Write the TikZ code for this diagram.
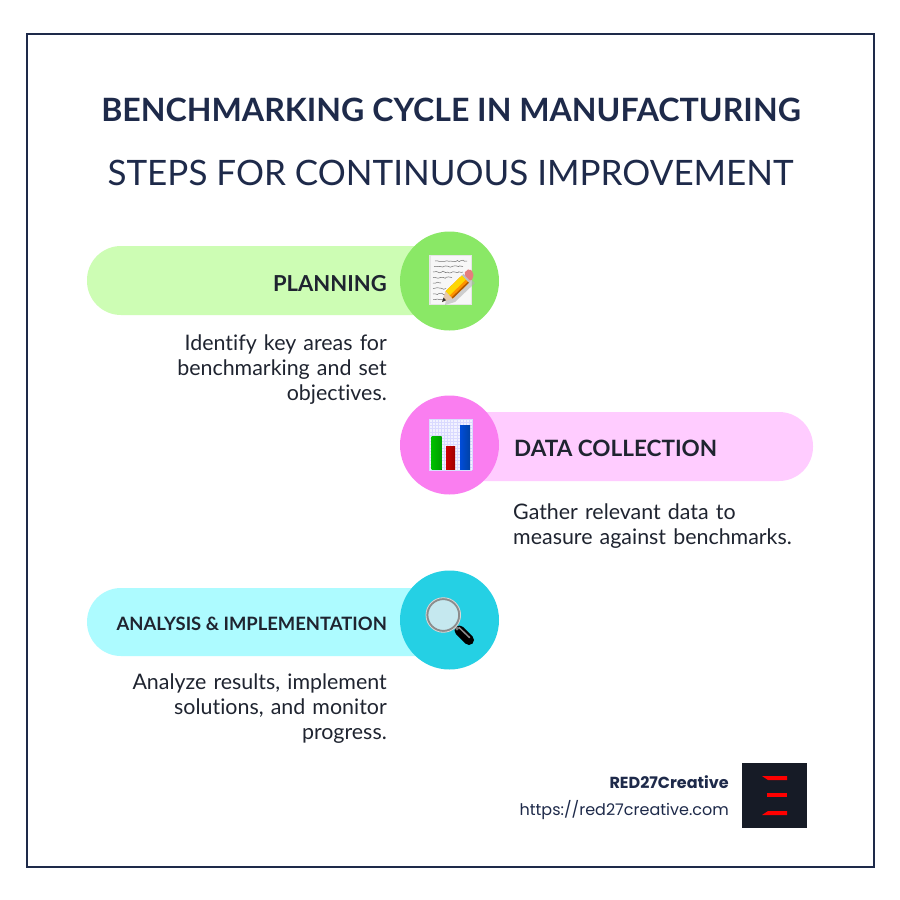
\documentclass[tikz,border=0pt]{standalone}
\usepackage{fontspec}
\setmainfont[Ligatures=NoCommon]{Lato}
\newfontfamily\pop{Poppins}
\definecolor{navy}{HTML}{1E2A4A}
\definecolor{ink}{HTML}{1F2430}
\definecolor{pg}{HTML}{CDFDB4}
\definecolor{cg}{HTML}{8AE866}
\definecolor{pp}{HTML}{FFCCFF}
\definecolor{cp}{HTML}{FA7EF0}
\definecolor{pc}{HTML}{ADFBFF}
\definecolor{cc}{HTML}{25D0E4}
\definecolor{lg}{HTML}{161B26}
\definecolor{lens}{HTML}{C5E8EF}
\usetikzlibrary{calc,decorations.pathmorphing}
\tikzset{
 x=1pt,y=-1pt,
 pill/.style={rounded corners=34pt,inner sep=0,outer sep=0},
 disc/.style={circle,minimum size=99pt,inner sep=0,outer sep=0},
 head/.style={inner sep=0,font=\fontsize{22}{26}\selectfont\bfseries,text=ink},
 body/.style={inner sep=0,font=\fontsize{21.4}{25}\selectfont,text=ink,text width=320pt},
 scribble/.style={black!55,line width=.5pt,decorate,decoration={random steps,segment length=2pt,amplitude=.8pt}}
}
\begin{document}
\begin{tikzpicture}
\useasboundingbox (0,0) rectangle (900,900);
\fill[white] (0,0) rectangle (900,900);
\draw[navy,line width=2pt] (27,34) rectangle (874,867);
\node[inner sep=0,text=navy] (t1) at (451,110) {\fontsize{32.1}{36}\selectfont\bfseries BENCHMARKING CYCLE IN MANUFACTURING};
\node[inner sep=0,text=navy] (t2) at (450.5,173) {\fontsize{35}{42}\selectfont STEPS FOR CONTINUOUS IMPROVEMENT};
% pills
\fill[pg,pill] (87,246) rectangle (460,315);
\fill[pp,pill] (440,412) rectangle (813,481);
\fill[pc,pill] (87,588) rectangle (460,656);
\node[disc,fill=cg] (c1) at (449.5,281) {};
\node[disc,fill=cp] (c2) at (449.5,445) {};
\node[disc,fill=cc] (c3) at (449.5,620) {};
\node[head,anchor=east] (h1) at (387,284) {PLANNING};
\node[head,anchor=west] (h2) at (514,448) {\fontsize{22.5}{26}\selectfont\bfseries DATA COLLECTION};
\node[head,anchor=east] (h3) at (387,624) {\fontsize{18.4}{24}\selectfont\bfseries ANALYSIS \& IMPLEMENTATION};
\node[body,anchor=north east,align=right] (b1) at (387,335) {Identify key areas for\\benchmarking and set\\objectives.};
\node[body,anchor=north west,align=left] (b2) at (513,504) {Gather relevant data to\\measure against benchmarks.};
\node[body,anchor=north east,align=right] (b3) at (387,674) {Analyze results, implement\\solutions, and monitor\\progress.};
% note icon
\fill[black!10] (429,255) rectangle (472,305);
\fill[black!3] (430.5,256) rectangle (470.5,304);
\foreach \y/\a/\b in {261/435/467,266.5/434/463,272/433/463,277.5/433/452,283/433/441,288.5/433/446,294/433/446,299.5/433/443}
  \draw[scribble] (\a,\y) -- (\b,\y);
\fill[black!30,opacity=.6] (447,294) -- (467,275) -- (475,283) -- (455,302) -- (445,305) -- cycle;
\fill[orange!85!yellow] (445.5,291.3) -- (462,275.3) -- (469,282.7) -- (452.5,298.7) -- cycle;
\fill[yellow!75!orange] (445.5,291.3) -- (462,275.3) -- (466,279.5) -- (449.5,295.5) -- cycle;
\fill[black!30!orange] (452.5,298.7) -- (469,282.7) -- (468,281.6) -- (451.5,297.6) -- cycle;
\fill[black!25] (462,275.3) -- (469,282.7) -- (470.5,281.3) -- (463.5,273.9) -- cycle;
\fill[red!45!white!90!black,rounded corners=2pt] (463.5,273.9) -- (466.6,270.3) -- (469.5,268.6) -- (473.5,272.5) -- (473.4,277.7) -- (470.5,281.3) -- cycle;
\fill[orange!25!white!90!black] (445.5,291.3) -- (452.5,298.7) -- (442,302) -- cycle;
\fill[black!80] (443.5,297.5) -- (446,300.3) -- (442,302) -- cycle;
% chart icon
\fill[blue!5!white] (429,419) rectangle (472,470);
\foreach \i in {0,...,14} \draw[blue!15!white,line width=.25pt] (429+\i*3.07,419) -- (429+\i*3.07,470);
\foreach \i in {0,...,16} \draw[blue!15!white,line width=.25pt] (429,419+\i*3.19) -- (472,419+\i*3.19);
\fill[left color=green!75!black,right color=green!62!black] (431.5,436.5) rectangle (441.5,469.5);
\fill[left color=red!80!black,right color=red!62!black] (446,446) rectangle (455,469.5);
\fill[left color=blue!65!cyan!85!black,right color=blue!60!cyan!65!black] (460,425) rectangle (470,469.5);
% magnifier
\draw[black,line width=10pt,line cap=round] (459.5,630.5) -- (469,640);
\draw[black!45,line width=1.5pt,line cap=round] (459,627.5) -- (469.5,637.5);
\draw[black!55,line width=3pt] (454,625.5) -- (458,629.5);
\fill[lens] (443.3,615) circle (16);
\draw[black!45,line width=2.5pt] (443.3,615) circle (16.2);
\draw[black!15,line width=.8pt] (443.3,615) circle (17.3);
% footer
\node[inner sep=0,anchor=east,text=navy] (f1) at (729,782) {\pop\fontsize{16}{18}\selectfont\bfseries RED27Creative};
\node[inner sep=0,anchor=east,text=navy] (f2) at (729,810) {\pop\fontsize{16}{18}\selectfont https://red27creative.com};
\fill[lg] (742,763) rectangle (807,828);
\fill[red] (762,776) -- (787,776) -- (787,780) -- (768,780) -- cycle;
\fill[red] (767,793) rectangle (787,797);
\fill[red] (768,811) -- (787,811) -- (787,815) -- (762,815) -- cycle;
\end{tikzpicture}
\end{document}
